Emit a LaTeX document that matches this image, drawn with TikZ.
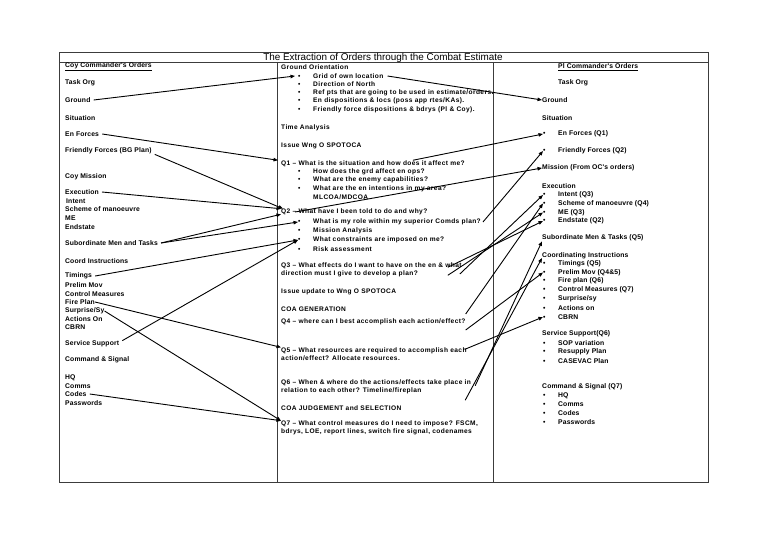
\documentclass[tikz,border=0pt]{standalone}
\usepackage{fontspec}
\setmainfont{Liberation Sans}
\newfontfamily\colsans[LetterSpace=2]{Liberation Sans}
\newfontfamily\midsans[LetterSpace=6]{Liberation Sans}
\usetikzlibrary{arrows.meta}
\definecolor{gridline}{RGB}{60, 60, 60}
\newcommand{\blt}{\makebox[15pt][l]{\textbullet}}
\tikzset{
  coltext/.style = {
    anchor=west,
    inner sep=0pt,
    font=\colsans\fontsize{6.8}{8}\selectfont\bfseries
  },
  midtext/.style = {
    anchor=west,
    inner sep=0pt,
    align=left,
    font=\midsans\fontsize{6.6}{8}\selectfont\bfseries
  },
  linkarrow/.style = {
    -{Triangle[length=4.5pt, width=3.5pt]},
    line width=0.9pt
  }
}

\begin{document}
\begin{tikzpicture}[x=1pt, y=-1pt]
  \useasboundingbox (0, 0) rectangle (768, 543);

  % Table frame
  \draw[gridline, line width=0.9pt] (59.5, 52) rectangle (708, 482);
  \draw[gridline, line width=0.9pt] (59.5, 62) -- (708, 62);
  \draw[gridline, line width=0.9pt] (277, 62) -- (277, 482);
  \draw[gridline, line width=0.9pt] (493, 62) -- (493, 482);
  \node[font=\fontsize{9.9}{10}\selectfont, inner sep=0pt] (title) at (383, 57.5) {The Extraction of Orders through the Combat Estimate};

  % Column 1: Coy Commander's Orders
  \node[coltext] (lhead) at (65, 67) {\underline{Coy Commander's Orders}};
  \node[coltext] (ltaskorg) at (65, 83) {Task Org};
  \node[coltext] (lground) at (65, 100) {Ground};
  \node[coltext] (lsituation) at (65, 118) {Situation};
  \node[coltext] (lenforces) at (65, 134) {En Forces};
  \node[coltext] (lfriendly) at (65, 151) {Friendly Forces (BG Plan)};
  \node[coltext] (lmission) at (65, 177) {Coy Mission};
  \node[coltext] (lexecution) at (65, 192) {Execution};
  \node[coltext] (lintent) at (66, 201) {Intent};
  \node[coltext] (lscheme) at (65, 209) {Scheme of manoeuvre};
  \node[coltext] (lme) at (65, 218) {ME};
  \node[coltext] (lendstate) at (65, 227) {Endstate};
  \node[coltext] (lsubord) at (65, 243) {Subordinate Men and Tasks};
  \node[coltext] (lcoord) at (65, 261) {Coord Instructions};
  \node[coltext] (ltimings) at (65, 276) {Timings};
  \node[coltext] (lprelim) at (65, 285) {Prelim Mov};
  \node[coltext] (lcontrol) at (65, 294) {Control Measures};
  \node[coltext] (lfireplan) at (65, 302) {Fire Plan};
  \node[coltext] (lsurprise) at (65, 311) {Surprise/Sy};
  \node[coltext] (lactions) at (65, 319) {Actions On};
  \node[coltext] (lcbrn) at (65, 327) {CBRN};
  \node[coltext] (lservice) at (65, 344) {Service Support};
  \node[coltext] (lcommand) at (65, 360) {Command \& Signal};
  \node[coltext] (lhq) at (65, 378) {HQ};
  \node[coltext] (lcomms) at (65, 386) {Comms};
  \node[coltext] (lcodes) at (65, 394) {Codes};
  \node[coltext] (lpasswords) at (65, 403) {Passwords};

  % Column 2: the Combat Estimate
  \node[midtext] (mhead) at (281, 67) {Ground Orientation};
  \node[midtext] (grid) at (298, 76) {\blt Grid of own location};
  \node[midtext] (north) at (298, 84) {\blt Direction of North};
  \node[midtext] (refpts) at (298, 92.5) {\blt Ref pts that are going to be used in estimate/orders.};
  \node[midtext] (endisp) at (298, 101) {\blt En dispositions \& locs (poss app rtes/KAs).};
  \node[midtext] (frdisp) at (298, 109.5) {\blt Friendly force dispositions \& bdrys (Pl \& Coy).};
  \node[midtext] (timean) at (281, 128) {Time Analysis};
  \node[midtext] (wngo) at (281, 146) {Issue Wng O SPOTOCA};
  \node[midtext] (q1) at (281, 163.5) {Q1 \textendash{} What is the situation and how does it affect me?};
  \node[midtext] (grd) at (298, 172) {\blt How does the grd affect en ops?};
  \node[midtext] (encap) at (298, 180) {\blt What are the enemy capabilities?};
  \node[midtext] (enint) at (298, 188.5) {\blt What are the en intentions in my area?};
  \node[midtext] (mlcoa) at (313, 197.5) {MLCOA/MDCOA};
  \node[midtext] (q2) at (281, 212) {Q2 \textendash{} What have I been told to do and why?};
  \node[midtext] (role) at (298, 222) {\blt What is my role within my superior Comds plan?};
  \node[midtext] (missan) at (298, 231) {\blt Mission Analysis};
  \node[midtext] (constr) at (298, 240) {\blt What constraints are imposed on me?};
  \node[midtext] (risk) at (298, 249) {\blt Risk assessment};
  \node[midtext] (q3) at (281, 270) {Q3 \textendash{} What effects do I want to have on the en \& what\\direction must I give to develop a plan?};
  \node[midtext] (wngoupd) at (281, 292) {Issue update to Wng O SPOTOCA};
  \node[midtext] (coagen) at (281, 309) {COA GENERATION};
  \node[midtext] (q4) at (281, 322) {Q4 \textendash{} where can I best accomplish each action/effect?};
  \node[midtext] (q5) at (281, 354) {Q5 \textendash{} What resources are required to accomplish each\\action/effect? Allocate resources.};
  \node[midtext] (q6) at (281, 387) {Q6 \textendash{} When \& where do the actions/effects take place in\\relation to each other? Timeline/fireplan};
  \node[midtext] (coajudge) at (281, 408) {COA JUDGEMENT and SELECTION};
  \node[midtext] (q7) at (281, 428) {Q7 \textendash{} What control measures do I need to impose? FSCM,\\bdrys, LOE, report lines, switch fire signal, codenames};

  % Column 3: Pl Commander's Orders
  \node[coltext] (rhead) at (558, 67) {\underline{Pl Commander's Orders}};
  \node[coltext] (rtaskorg) at (558, 83) {Task Org};
  \node[coltext] (rground) at (542, 100) {Ground};
  \node[coltext] (rsituation) at (542, 118) {Situation};
  \node[coltext] (renforces) at (543, 134) {\blt En Forces (Q1)};
  \node[coltext] (rfriendly) at (543, 151) {\blt Friendly Forces (Q2)};
  \node[coltext] (rmission) at (542, 168) {Mission (From OC's orders)};
  \node[coltext] (rexecution) at (542, 186) {Execution};
  \node[coltext] (rintent) at (543, 195) {\blt Intent (Q3)};
  \node[coltext] (rscheme) at (543, 203.5) {\blt Scheme of manoeuvre (Q4)};
  \node[coltext] (rme) at (543, 212.5) {\blt ME (Q3)};
  \node[coltext] (rendstate) at (543, 221) {\blt Endstate (Q2)};
  \node[coltext] (rsubord) at (542, 238) {Subordinate Men \& Tasks (Q5)};
  \node[coltext] (rcoord) at (542, 256) {Coordinating Instructions};
  \node[coltext] (rtimings) at (543, 264) {\blt Timings (Q5)};
  \node[coltext] (rprelim) at (543, 272.5) {\blt Prelim Mov (Q4\&5)};
  \node[coltext] (rfire) at (543, 281) {\blt Fire plan (Q6)};
  \node[coltext] (rcontrol) at (543, 290) {\blt Control Measures (Q7)};
  \node[coltext] (rsurprise) at (543, 299) {\blt Surprise/sy};
  \node[coltext] (ractions) at (543, 308) {\blt Actions on};
  \node[coltext] (rcbrn) at (543, 317) {\blt CBRN};
  \node[coltext] (rservice) at (542, 334) {Service Support(Q6)};
  \node[coltext] (rsop) at (543, 343) {\blt SOP variation};
  \node[coltext] (rresupply) at (543, 352) {\blt Resupply Plan};
  \node[coltext] (rcasevac) at (543, 361) {\blt CASEVAC Plan};
  \node[coltext] (rcommand) at (542, 387) {Command \& Signal (Q7)};
  \node[coltext] (rhq) at (543, 396) {\blt HQ};
  \node[coltext] (rcomms) at (543, 404.5) {\blt Comms};
  \node[coltext] (rcodes) at (543, 413) {\blt Codes};
  \node[coltext] (rpasswords) at (543, 422) {\blt Passwords};

  % Coy orders -> estimate
  \draw[linkarrow] ([xshift=3pt]lground.east) -- ([xshift=-3pt]grid.west);
  \draw[linkarrow] ([xshift=3pt]lenforces.east) -- ([xshift=-3pt]q1.north west);
  \draw[linkarrow] ([xshift=3pt]lfriendly.south east) -- ([xshift=2pt]q2.north west);
  \draw[linkarrow] ([xshift=3pt]lexecution.east) -- (q2.north west);
  \draw[linkarrow] ([xshift=3pt]lsubord.east) -- ([yshift=1pt]q2.south west);
  \draw[linkarrow] ([xshift=3pt]lsubord.east) -- (role.west);
  \draw[linkarrow] ([xshift=3pt]ltimings.east) -- (constr.west);
  \draw[linkarrow] ([xshift=3pt]lservice.north east) -- (constr.west);
  \draw[linkarrow] (lfireplan.east) -- (q5.north west);
  \draw[linkarrow] (lsurprise.east) -- (q7.north west);
  \draw[linkarrow] ([xshift=3pt]lcodes.east) -- (q7.north west);

  % Estimate -> Pl orders
  \draw[linkarrow] ([xshift=4pt]grid.east) -- (rground.west);
  \draw[linkarrow] ([xshift=40pt]q1.north) -- (renforces.west);
  \draw[linkarrow] ([xshift=14pt]q2.west) -- (rmission.west);
  \draw[linkarrow] ([xshift=2pt]role.east) -- (rfriendly.west);
  \draw[linkarrow] ([xshift=-14pt, yshift=10pt]q3.south east) -- (rendstate.west);
  \draw[linkarrow] ([xshift=-2pt, yshift=-4pt]q3.east) -- (rintent.west);
  \draw[linkarrow] ([xshift=-14pt, yshift=2pt]q3.south east) -- (rme.west);
  \draw[linkarrow] ([yshift=-8pt]q4.east) -- (rprelim.west);
  \draw[linkarrow] ([yshift=8pt]q4.east) -- (rscheme.west);
  \draw[linkarrow] ([xshift=-2pt, yshift=-2pt]q5.north east) -- (rcbrn.west);
  \draw[linkarrow] ([xshift=4pt, yshift=-6pt]q6.north east) -- (rsubord.south west);
  \draw[linkarrow] ([xshift=-6pt, yshift=-6pt]q6.south east) -- ([yshift=-2pt]rcoord.west);
\end{tikzpicture}
\end{document}
